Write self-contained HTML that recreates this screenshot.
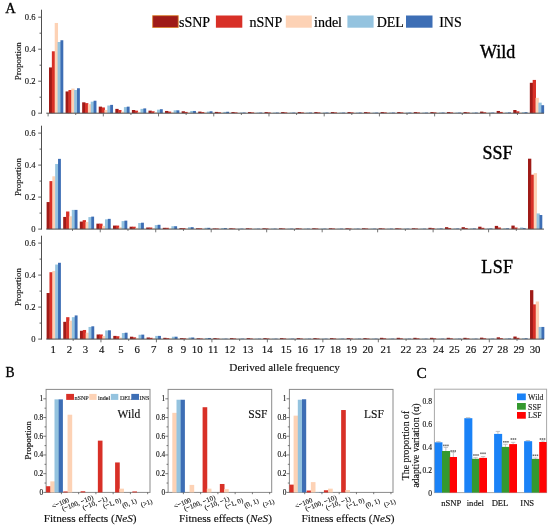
<!DOCTYPE html>
<html><head><meta charset="utf-8"><style>
html,body{margin:0;padding:0;background:#fff;}
svg{display:block;}
text{font-family:"Liberation Serif",serif;stroke:currentColor;stroke-width:0.14px;}
</style></head><body>
<svg style="will-change:transform;filter:blur(0.3px)" width="550" height="526" viewBox="0 0 550 526">
<rect width="550" height="526" fill="#fff"/>
<rect x="49" y="67.44" width="3.31" height="45.76" fill="#9f1b18"/>
<rect x="51.86" y="51.28" width="3.31" height="61.92" fill="#d83027"/>
<rect x="54.72" y="22.96" width="3.31" height="90.24" fill="#fdd2b5"/>
<rect x="57.58" y="42" width="3.31" height="71.2" fill="#94c3df"/>
<rect x="60.44" y="40.24" width="2.86" height="72.96" fill="#3d6eb5"/>
<rect x="65.58" y="91.44" width="3.31" height="21.76" fill="#9f1b18"/>
<rect x="68.44" y="90" width="3.31" height="23.2" fill="#d83027"/>
<rect x="71.3" y="88.56" width="3.31" height="24.64" fill="#fdd2b5"/>
<rect x="74.16" y="90" width="3.31" height="23.2" fill="#94c3df"/>
<rect x="77.02" y="88.24" width="2.86" height="24.96" fill="#3d6eb5"/>
<rect x="82.16" y="102.32" width="3.31" height="10.88" fill="#9f1b18"/>
<rect x="85.02" y="103.12" width="3.31" height="10.08" fill="#d83027"/>
<rect x="87.88" y="104.24" width="3.31" height="8.96" fill="#fdd2b5"/>
<rect x="90.74" y="101.68" width="3.31" height="11.52" fill="#94c3df"/>
<rect x="93.6" y="100.72" width="2.86" height="12.48" fill="#3d6eb5"/>
<rect x="98.74" y="106.64" width="3.31" height="6.56" fill="#9f1b18"/>
<rect x="101.6" y="107.44" width="3.31" height="5.76" fill="#d83027"/>
<rect x="104.46" y="110" width="3.31" height="3.2" fill="#fdd2b5"/>
<rect x="107.32" y="105.52" width="3.31" height="7.68" fill="#94c3df"/>
<rect x="110.18" y="104.88" width="2.86" height="8.32" fill="#3d6eb5"/>
<rect x="115.32" y="108.88" width="3.31" height="4.32" fill="#9f1b18"/>
<rect x="118.18" y="110" width="3.31" height="3.2" fill="#d83027"/>
<rect x="121.04" y="111.6" width="3.31" height="1.6" fill="#fdd2b5"/>
<rect x="123.9" y="107.12" width="3.31" height="6.08" fill="#94c3df"/>
<rect x="126.76" y="106.64" width="2.86" height="6.56" fill="#3d6eb5"/>
<rect x="131.9" y="110" width="3.31" height="3.2" fill="#9f1b18"/>
<rect x="134.76" y="110.64" width="3.31" height="2.56" fill="#d83027"/>
<rect x="137.62" y="111.92" width="3.31" height="1.28" fill="#fdd2b5"/>
<rect x="140.48" y="108.88" width="3.31" height="4.32" fill="#94c3df"/>
<rect x="143.34" y="108.4" width="2.86" height="4.8" fill="#3d6eb5"/>
<rect x="148.48" y="110.64" width="3.31" height="2.56" fill="#9f1b18"/>
<rect x="151.34" y="111.28" width="3.31" height="1.92" fill="#d83027"/>
<rect x="154.2" y="112.24" width="3.31" height="0.96" fill="#fdd2b5"/>
<rect x="157.06" y="109.68" width="3.31" height="3.52" fill="#94c3df"/>
<rect x="159.92" y="109.2" width="2.86" height="4" fill="#3d6eb5"/>
<rect x="165.06" y="110.96" width="3.31" height="2.24" fill="#9f1b18"/>
<rect x="167.92" y="111.6" width="3.31" height="1.6" fill="#d83027"/>
<rect x="170.78" y="112.4" width="3.31" height="0.8" fill="#fdd2b5"/>
<rect x="173.64" y="110.32" width="3.31" height="2.88" fill="#94c3df"/>
<rect x="176.5" y="110.32" width="2.86" height="2.88" fill="#3d6eb5"/>
<rect x="181.64" y="111.28" width="3.31" height="1.92" fill="#9f1b18"/>
<rect x="184.5" y="111.92" width="3.31" height="1.28" fill="#d83027"/>
<rect x="187.36" y="112.56" width="3.31" height="0.64" fill="#fdd2b5"/>
<rect x="190.22" y="110.96" width="3.31" height="2.24" fill="#94c3df"/>
<rect x="193.08" y="110.96" width="2.86" height="2.24" fill="#3d6eb5"/>
<rect x="198.22" y="111.6" width="3.31" height="1.6" fill="#9f1b18"/>
<rect x="201.08" y="112.08" width="3.31" height="1.12" fill="#d83027"/>
<rect x="203.94" y="112.56" width="3.31" height="0.64" fill="#fdd2b5"/>
<rect x="206.8" y="111.6" width="3.31" height="1.6" fill="#94c3df"/>
<rect x="209.66" y="111.28" width="2.86" height="1.92" fill="#3d6eb5"/>
<rect x="214.8" y="111.92" width="3.31" height="1.28" fill="#9f1b18"/>
<rect x="217.66" y="112.24" width="3.31" height="0.96" fill="#d83027"/>
<rect x="220.52" y="112.72" width="3.31" height="0.48" fill="#fdd2b5"/>
<rect x="223.38" y="111.92" width="3.31" height="1.28" fill="#94c3df"/>
<rect x="226.24" y="111.76" width="2.86" height="1.44" fill="#3d6eb5"/>
<rect x="231.38" y="112.08" width="3.31" height="1.12" fill="#9f1b18"/>
<rect x="234.24" y="112.4" width="3.31" height="0.8" fill="#d83027"/>
<rect x="237.1" y="112.88" width="3.31" height="0.32" fill="#fdd2b5"/>
<rect x="239.96" y="112.56" width="3.31" height="0.64" fill="#94c3df"/>
<rect x="242.82" y="112.56" width="2.86" height="0.64" fill="#3d6eb5"/>
<rect x="247.96" y="112.08" width="3.31" height="1.12" fill="#9f1b18"/>
<rect x="250.82" y="112.4" width="3.31" height="0.8" fill="#d83027"/>
<rect x="253.68" y="112.88" width="3.31" height="0.32" fill="#fdd2b5"/>
<rect x="256.54" y="112.56" width="3.31" height="0.64" fill="#94c3df"/>
<rect x="259.4" y="112.56" width="2.86" height="0.64" fill="#3d6eb5"/>
<rect x="264.54" y="112.08" width="3.31" height="1.12" fill="#9f1b18"/>
<rect x="267.4" y="112.4" width="3.31" height="0.8" fill="#d83027"/>
<rect x="270.26" y="112.88" width="3.31" height="0.32" fill="#fdd2b5"/>
<rect x="273.12" y="112.56" width="3.31" height="0.64" fill="#94c3df"/>
<rect x="275.98" y="112.56" width="2.86" height="0.64" fill="#3d6eb5"/>
<rect x="281.12" y="112.08" width="3.31" height="1.12" fill="#9f1b18"/>
<rect x="283.98" y="112.4" width="3.31" height="0.8" fill="#d83027"/>
<rect x="286.84" y="112.88" width="3.31" height="0.32" fill="#fdd2b5"/>
<rect x="289.7" y="112.56" width="3.31" height="0.64" fill="#94c3df"/>
<rect x="292.56" y="112.56" width="2.86" height="0.64" fill="#3d6eb5"/>
<rect x="297.7" y="112.08" width="3.31" height="1.12" fill="#9f1b18"/>
<rect x="300.56" y="112.4" width="3.31" height="0.8" fill="#d83027"/>
<rect x="303.42" y="112.88" width="3.31" height="0.32" fill="#fdd2b5"/>
<rect x="306.28" y="112.56" width="3.31" height="0.64" fill="#94c3df"/>
<rect x="309.14" y="112.56" width="2.86" height="0.64" fill="#3d6eb5"/>
<rect x="314.28" y="112.08" width="3.31" height="1.12" fill="#9f1b18"/>
<rect x="317.14" y="112.4" width="3.31" height="0.8" fill="#d83027"/>
<rect x="320" y="112.88" width="3.31" height="0.32" fill="#fdd2b5"/>
<rect x="322.86" y="112.56" width="3.31" height="0.64" fill="#94c3df"/>
<rect x="325.72" y="112.56" width="2.86" height="0.64" fill="#3d6eb5"/>
<rect x="330.86" y="112.08" width="3.31" height="1.12" fill="#9f1b18"/>
<rect x="333.72" y="112.4" width="3.31" height="0.8" fill="#d83027"/>
<rect x="336.58" y="112.88" width="3.31" height="0.32" fill="#fdd2b5"/>
<rect x="339.44" y="112.56" width="3.31" height="0.64" fill="#94c3df"/>
<rect x="342.3" y="112.56" width="2.86" height="0.64" fill="#3d6eb5"/>
<rect x="347.44" y="112.08" width="3.31" height="1.12" fill="#9f1b18"/>
<rect x="350.3" y="112.4" width="3.31" height="0.8" fill="#d83027"/>
<rect x="353.16" y="112.88" width="3.31" height="0.32" fill="#fdd2b5"/>
<rect x="356.02" y="112.56" width="3.31" height="0.64" fill="#94c3df"/>
<rect x="358.88" y="112.56" width="2.86" height="0.64" fill="#3d6eb5"/>
<rect x="364.02" y="112.08" width="3.31" height="1.12" fill="#9f1b18"/>
<rect x="366.88" y="112.4" width="3.31" height="0.8" fill="#d83027"/>
<rect x="369.74" y="112.88" width="3.31" height="0.32" fill="#fdd2b5"/>
<rect x="372.6" y="112.56" width="3.31" height="0.64" fill="#94c3df"/>
<rect x="375.46" y="112.56" width="2.86" height="0.64" fill="#3d6eb5"/>
<rect x="380.6" y="112.08" width="3.31" height="1.12" fill="#9f1b18"/>
<rect x="383.46" y="112.4" width="3.31" height="0.8" fill="#d83027"/>
<rect x="386.32" y="112.88" width="3.31" height="0.32" fill="#fdd2b5"/>
<rect x="389.18" y="112.56" width="3.31" height="0.64" fill="#94c3df"/>
<rect x="392.04" y="112.56" width="2.86" height="0.64" fill="#3d6eb5"/>
<rect x="397.18" y="112.08" width="3.31" height="1.12" fill="#9f1b18"/>
<rect x="400.04" y="112.4" width="3.31" height="0.8" fill="#d83027"/>
<rect x="402.9" y="112.88" width="3.31" height="0.32" fill="#fdd2b5"/>
<rect x="405.76" y="112.56" width="3.31" height="0.64" fill="#94c3df"/>
<rect x="408.62" y="112.56" width="2.86" height="0.64" fill="#3d6eb5"/>
<rect x="413.76" y="112.08" width="3.31" height="1.12" fill="#9f1b18"/>
<rect x="416.62" y="112.4" width="3.31" height="0.8" fill="#d83027"/>
<rect x="419.48" y="112.88" width="3.31" height="0.32" fill="#fdd2b5"/>
<rect x="422.34" y="112.56" width="3.31" height="0.64" fill="#94c3df"/>
<rect x="425.2" y="112.56" width="2.86" height="0.64" fill="#3d6eb5"/>
<rect x="430.34" y="112.08" width="3.31" height="1.12" fill="#9f1b18"/>
<rect x="433.2" y="112.4" width="3.31" height="0.8" fill="#d83027"/>
<rect x="436.06" y="112.88" width="3.31" height="0.32" fill="#fdd2b5"/>
<rect x="438.92" y="112.56" width="3.31" height="0.64" fill="#94c3df"/>
<rect x="441.78" y="112.56" width="2.86" height="0.64" fill="#3d6eb5"/>
<rect x="446.92" y="112.08" width="3.31" height="1.12" fill="#9f1b18"/>
<rect x="449.78" y="112.4" width="3.31" height="0.8" fill="#d83027"/>
<rect x="452.64" y="112.88" width="3.31" height="0.32" fill="#fdd2b5"/>
<rect x="455.5" y="112.56" width="3.31" height="0.64" fill="#94c3df"/>
<rect x="458.36" y="112.56" width="2.86" height="0.64" fill="#3d6eb5"/>
<rect x="463.5" y="112.08" width="3.31" height="1.12" fill="#9f1b18"/>
<rect x="466.36" y="112.4" width="3.31" height="0.8" fill="#d83027"/>
<rect x="469.22" y="112.88" width="3.31" height="0.32" fill="#fdd2b5"/>
<rect x="472.08" y="112.56" width="3.31" height="0.64" fill="#94c3df"/>
<rect x="474.94" y="112.56" width="2.86" height="0.64" fill="#3d6eb5"/>
<rect x="480.08" y="111.6" width="3.31" height="1.6" fill="#9f1b18"/>
<rect x="482.94" y="112.24" width="3.31" height="0.96" fill="#d83027"/>
<rect x="485.8" y="112.72" width="3.31" height="0.48" fill="#fdd2b5"/>
<rect x="488.66" y="112.56" width="3.31" height="0.64" fill="#94c3df"/>
<rect x="491.52" y="112.56" width="2.86" height="0.64" fill="#3d6eb5"/>
<rect x="496.66" y="110.96" width="3.31" height="2.24" fill="#9f1b18"/>
<rect x="499.52" y="111.92" width="3.31" height="1.28" fill="#d83027"/>
<rect x="502.38" y="112.72" width="3.31" height="0.48" fill="#fdd2b5"/>
<rect x="505.24" y="112.4" width="3.31" height="0.8" fill="#94c3df"/>
<rect x="508.1" y="112.4" width="2.86" height="0.8" fill="#3d6eb5"/>
<rect x="513.24" y="110" width="3.31" height="3.2" fill="#9f1b18"/>
<rect x="516.1" y="111.28" width="3.31" height="1.92" fill="#d83027"/>
<rect x="518.96" y="112.56" width="3.31" height="0.64" fill="#fdd2b5"/>
<rect x="521.82" y="112.24" width="3.31" height="0.96" fill="#94c3df"/>
<rect x="524.68" y="112.24" width="2.86" height="0.96" fill="#3d6eb5"/>
<rect x="529.82" y="82.8" width="3.31" height="30.4" fill="#9f1b18"/>
<rect x="532.68" y="79.92" width="3.31" height="33.28" fill="#d83027"/>
<rect x="535.54" y="97.84" width="3.31" height="15.36" fill="#fdd2b5"/>
<rect x="538.4" y="102.64" width="3.31" height="10.56" fill="#94c3df"/>
<rect x="541.26" y="105.2" width="2.86" height="8" fill="#3d6eb5"/>
<line x1="41.5" y1="9.7" x2="41.5" y2="113.7" stroke="#505050" stroke-width="1"/>
<line x1="46.3" y1="113.2" x2="544" y2="113.2" stroke="#505050" stroke-width="1"/>
<line x1="38.2" y1="113.2" x2="41.5" y2="113.2" stroke="#505050" stroke-width="0.9"/>
<text x="35.6" y="115.8" font-size="8.6" text-anchor="end" fill="#222">0</text>
<line x1="39.5" y1="97.2" x2="41.5" y2="97.2" stroke="#505050" stroke-width="0.9"/>
<line x1="38.2" y1="81.2" x2="41.5" y2="81.2" stroke="#505050" stroke-width="0.9"/>
<text x="35.6" y="83.8" font-size="8.6" text-anchor="end" fill="#222">0.2</text>
<line x1="39.5" y1="65.2" x2="41.5" y2="65.2" stroke="#505050" stroke-width="0.9"/>
<line x1="38.2" y1="49.2" x2="41.5" y2="49.2" stroke="#505050" stroke-width="0.9"/>
<text x="35.6" y="51.8" font-size="8.6" text-anchor="end" fill="#222">0.4</text>
<line x1="39.5" y1="33.2" x2="41.5" y2="33.2" stroke="#505050" stroke-width="0.9"/>
<line x1="38.2" y1="17.2" x2="41.5" y2="17.2" stroke="#505050" stroke-width="0.9"/>
<text x="35.6" y="19.8" font-size="8.6" text-anchor="end" fill="#222">0.6</text>
<line x1="48.1" y1="113.2" x2="48.1" y2="116.4" stroke="#505050" stroke-width="0.8"/>
<line x1="75.71" y1="113.2" x2="75.71" y2="115" stroke="#505050" stroke-width="0.8"/>
<line x1="103.32" y1="113.2" x2="103.32" y2="116.4" stroke="#505050" stroke-width="0.8"/>
<line x1="130.93" y1="113.2" x2="130.93" y2="115" stroke="#505050" stroke-width="0.8"/>
<line x1="158.54" y1="113.2" x2="158.54" y2="116.4" stroke="#505050" stroke-width="0.8"/>
<line x1="186.15" y1="113.2" x2="186.15" y2="115" stroke="#505050" stroke-width="0.8"/>
<line x1="213.76" y1="113.2" x2="213.76" y2="116.4" stroke="#505050" stroke-width="0.8"/>
<line x1="241.37" y1="113.2" x2="241.37" y2="115" stroke="#505050" stroke-width="0.8"/>
<line x1="268.98" y1="113.2" x2="268.98" y2="116.4" stroke="#505050" stroke-width="0.8"/>
<line x1="296.59" y1="113.2" x2="296.59" y2="115" stroke="#505050" stroke-width="0.8"/>
<line x1="324.2" y1="113.2" x2="324.2" y2="116.4" stroke="#505050" stroke-width="0.8"/>
<line x1="351.81" y1="113.2" x2="351.81" y2="115" stroke="#505050" stroke-width="0.8"/>
<line x1="379.42" y1="113.2" x2="379.42" y2="116.4" stroke="#505050" stroke-width="0.8"/>
<line x1="407.03" y1="113.2" x2="407.03" y2="115" stroke="#505050" stroke-width="0.8"/>
<line x1="434.64" y1="113.2" x2="434.64" y2="116.4" stroke="#505050" stroke-width="0.8"/>
<line x1="462.25" y1="113.2" x2="462.25" y2="115" stroke="#505050" stroke-width="0.8"/>
<line x1="489.86" y1="113.2" x2="489.86" y2="116.4" stroke="#505050" stroke-width="0.8"/>
<line x1="517.47" y1="113.2" x2="517.47" y2="115" stroke="#505050" stroke-width="0.8"/>
<text transform="translate(20.6 61.2) rotate(-90)" font-size="8.9" text-anchor="middle" fill="#222">Proportion</text>
<text x="479.9" y="57.8" font-size="18" fill="#000" style="stroke-width:0.4px" >Wild</text>
<rect x="46.6" y="202.06" width="3.31" height="27.04" fill="#9f1b18"/>
<rect x="49.46" y="181.1" width="3.31" height="48" fill="#d83027"/>
<rect x="52.32" y="176.3" width="3.31" height="52.8" fill="#fdd2b5"/>
<rect x="55.18" y="163.98" width="3.31" height="65.12" fill="#94c3df"/>
<rect x="58.04" y="158.86" width="2.86" height="70.24" fill="#3d6eb5"/>
<rect x="63.2" y="216.94" width="3.31" height="12.16" fill="#9f1b18"/>
<rect x="66.06" y="211.5" width="3.31" height="17.6" fill="#d83027"/>
<rect x="68.92" y="216.3" width="3.31" height="12.8" fill="#fdd2b5"/>
<rect x="71.78" y="209.9" width="3.31" height="19.2" fill="#94c3df"/>
<rect x="74.64" y="209.9" width="2.86" height="19.2" fill="#3d6eb5"/>
<rect x="79.8" y="221.58" width="3.31" height="7.52" fill="#9f1b18"/>
<rect x="82.66" y="220.14" width="3.31" height="8.96" fill="#d83027"/>
<rect x="85.52" y="221.9" width="3.31" height="7.2" fill="#fdd2b5"/>
<rect x="88.38" y="217.1" width="3.31" height="12" fill="#94c3df"/>
<rect x="91.24" y="216.62" width="2.86" height="12.48" fill="#3d6eb5"/>
<rect x="96.4" y="223.66" width="3.31" height="5.44" fill="#9f1b18"/>
<rect x="99.26" y="223.66" width="3.31" height="5.44" fill="#d83027"/>
<rect x="102.12" y="225.9" width="3.31" height="3.2" fill="#fdd2b5"/>
<rect x="104.98" y="219.34" width="3.31" height="9.76" fill="#94c3df"/>
<rect x="107.84" y="218.86" width="2.86" height="10.24" fill="#3d6eb5"/>
<rect x="113" y="225.58" width="3.31" height="3.52" fill="#9f1b18"/>
<rect x="115.86" y="225.58" width="3.31" height="3.52" fill="#d83027"/>
<rect x="118.72" y="227.18" width="3.31" height="1.92" fill="#fdd2b5"/>
<rect x="121.58" y="221.1" width="3.31" height="8" fill="#94c3df"/>
<rect x="124.44" y="220.62" width="2.86" height="8.48" fill="#3d6eb5"/>
<rect x="129.6" y="226.7" width="3.31" height="2.4" fill="#9f1b18"/>
<rect x="132.46" y="226.7" width="3.31" height="2.4" fill="#d83027"/>
<rect x="135.32" y="227.82" width="3.31" height="1.28" fill="#fdd2b5"/>
<rect x="138.18" y="223.02" width="3.31" height="6.08" fill="#94c3df"/>
<rect x="141.04" y="222.7" width="2.86" height="6.4" fill="#3d6eb5"/>
<rect x="146.2" y="227.5" width="3.31" height="1.6" fill="#9f1b18"/>
<rect x="149.06" y="227.5" width="3.31" height="1.6" fill="#d83027"/>
<rect x="151.92" y="228.3" width="3.31" height="0.8" fill="#fdd2b5"/>
<rect x="154.78" y="225.1" width="3.31" height="4" fill="#94c3df"/>
<rect x="157.64" y="224.78" width="2.86" height="4.32" fill="#3d6eb5"/>
<rect x="162.8" y="227.82" width="3.31" height="1.28" fill="#9f1b18"/>
<rect x="165.66" y="227.82" width="3.31" height="1.28" fill="#d83027"/>
<rect x="168.52" y="228.46" width="3.31" height="0.64" fill="#fdd2b5"/>
<rect x="171.38" y="226.22" width="3.31" height="2.88" fill="#94c3df"/>
<rect x="174.24" y="226.22" width="2.86" height="2.88" fill="#3d6eb5"/>
<rect x="179.4" y="228.14" width="3.31" height="0.96" fill="#9f1b18"/>
<rect x="182.26" y="228.14" width="3.31" height="0.96" fill="#d83027"/>
<rect x="185.12" y="228.62" width="3.31" height="0.48" fill="#fdd2b5"/>
<rect x="187.98" y="227.18" width="3.31" height="1.92" fill="#94c3df"/>
<rect x="190.84" y="227.18" width="2.86" height="1.92" fill="#3d6eb5"/>
<rect x="196" y="228.3" width="3.31" height="0.8" fill="#9f1b18"/>
<rect x="198.86" y="228.3" width="3.31" height="0.8" fill="#d83027"/>
<rect x="201.72" y="228.78" width="3.31" height="0.32" fill="#fdd2b5"/>
<rect x="204.58" y="227.82" width="3.31" height="1.28" fill="#94c3df"/>
<rect x="207.44" y="227.82" width="2.86" height="1.28" fill="#3d6eb5"/>
<rect x="212.6" y="228.46" width="3.31" height="0.64" fill="#9f1b18"/>
<rect x="215.46" y="228.46" width="3.31" height="0.64" fill="#d83027"/>
<rect x="218.32" y="228.78" width="3.31" height="0.32" fill="#fdd2b5"/>
<rect x="221.18" y="228.14" width="3.31" height="0.96" fill="#94c3df"/>
<rect x="224.04" y="228.14" width="2.86" height="0.96" fill="#3d6eb5"/>
<rect x="229.2" y="228.3" width="3.31" height="0.8" fill="#9f1b18"/>
<rect x="232.06" y="228.46" width="3.31" height="0.64" fill="#d83027"/>
<rect x="234.92" y="228.78" width="3.31" height="0.32" fill="#fdd2b5"/>
<rect x="237.78" y="228.62" width="3.31" height="0.48" fill="#94c3df"/>
<rect x="240.64" y="228.62" width="2.86" height="0.48" fill="#3d6eb5"/>
<rect x="245.8" y="228.3" width="3.31" height="0.8" fill="#9f1b18"/>
<rect x="248.66" y="228.46" width="3.31" height="0.64" fill="#d83027"/>
<rect x="251.52" y="228.78" width="3.31" height="0.32" fill="#fdd2b5"/>
<rect x="254.38" y="228.62" width="3.31" height="0.48" fill="#94c3df"/>
<rect x="257.24" y="228.62" width="2.86" height="0.48" fill="#3d6eb5"/>
<rect x="262.4" y="228.3" width="3.31" height="0.8" fill="#9f1b18"/>
<rect x="265.26" y="228.46" width="3.31" height="0.64" fill="#d83027"/>
<rect x="268.12" y="228.78" width="3.31" height="0.32" fill="#fdd2b5"/>
<rect x="270.98" y="228.62" width="3.31" height="0.48" fill="#94c3df"/>
<rect x="273.84" y="228.62" width="2.86" height="0.48" fill="#3d6eb5"/>
<rect x="279" y="228.3" width="3.31" height="0.8" fill="#9f1b18"/>
<rect x="281.86" y="228.46" width="3.31" height="0.64" fill="#d83027"/>
<rect x="284.72" y="228.78" width="3.31" height="0.32" fill="#fdd2b5"/>
<rect x="287.58" y="228.62" width="3.31" height="0.48" fill="#94c3df"/>
<rect x="290.44" y="228.62" width="2.86" height="0.48" fill="#3d6eb5"/>
<rect x="295.6" y="228.3" width="3.31" height="0.8" fill="#9f1b18"/>
<rect x="298.46" y="228.46" width="3.31" height="0.64" fill="#d83027"/>
<rect x="301.32" y="228.78" width="3.31" height="0.32" fill="#fdd2b5"/>
<rect x="304.18" y="228.62" width="3.31" height="0.48" fill="#94c3df"/>
<rect x="307.04" y="228.62" width="2.86" height="0.48" fill="#3d6eb5"/>
<rect x="312.2" y="228.3" width="3.31" height="0.8" fill="#9f1b18"/>
<rect x="315.06" y="228.46" width="3.31" height="0.64" fill="#d83027"/>
<rect x="317.92" y="228.78" width="3.31" height="0.32" fill="#fdd2b5"/>
<rect x="320.78" y="228.62" width="3.31" height="0.48" fill="#94c3df"/>
<rect x="323.64" y="228.62" width="2.86" height="0.48" fill="#3d6eb5"/>
<rect x="328.8" y="228.3" width="3.31" height="0.8" fill="#9f1b18"/>
<rect x="331.66" y="228.46" width="3.31" height="0.64" fill="#d83027"/>
<rect x="334.52" y="228.78" width="3.31" height="0.32" fill="#fdd2b5"/>
<rect x="337.38" y="228.62" width="3.31" height="0.48" fill="#94c3df"/>
<rect x="340.24" y="228.62" width="2.86" height="0.48" fill="#3d6eb5"/>
<rect x="345.4" y="228.3" width="3.31" height="0.8" fill="#9f1b18"/>
<rect x="348.26" y="228.46" width="3.31" height="0.64" fill="#d83027"/>
<rect x="351.12" y="228.78" width="3.31" height="0.32" fill="#fdd2b5"/>
<rect x="353.98" y="228.62" width="3.31" height="0.48" fill="#94c3df"/>
<rect x="356.84" y="228.62" width="2.86" height="0.48" fill="#3d6eb5"/>
<rect x="362" y="228.3" width="3.31" height="0.8" fill="#9f1b18"/>
<rect x="364.86" y="228.46" width="3.31" height="0.64" fill="#d83027"/>
<rect x="367.72" y="228.78" width="3.31" height="0.32" fill="#fdd2b5"/>
<rect x="370.58" y="228.62" width="3.31" height="0.48" fill="#94c3df"/>
<rect x="373.44" y="228.62" width="2.86" height="0.48" fill="#3d6eb5"/>
<rect x="378.6" y="228.3" width="3.31" height="0.8" fill="#9f1b18"/>
<rect x="381.46" y="228.46" width="3.31" height="0.64" fill="#d83027"/>
<rect x="384.32" y="228.78" width="3.31" height="0.32" fill="#fdd2b5"/>
<rect x="387.18" y="228.62" width="3.31" height="0.48" fill="#94c3df"/>
<rect x="390.04" y="228.62" width="2.86" height="0.48" fill="#3d6eb5"/>
<rect x="395.2" y="228.3" width="3.31" height="0.8" fill="#9f1b18"/>
<rect x="398.06" y="228.46" width="3.31" height="0.64" fill="#d83027"/>
<rect x="400.92" y="228.78" width="3.31" height="0.32" fill="#fdd2b5"/>
<rect x="403.78" y="228.62" width="3.31" height="0.48" fill="#94c3df"/>
<rect x="406.64" y="228.62" width="2.86" height="0.48" fill="#3d6eb5"/>
<rect x="411.8" y="228.3" width="3.31" height="0.8" fill="#9f1b18"/>
<rect x="414.66" y="228.46" width="3.31" height="0.64" fill="#d83027"/>
<rect x="417.52" y="228.78" width="3.31" height="0.32" fill="#fdd2b5"/>
<rect x="420.38" y="228.62" width="3.31" height="0.48" fill="#94c3df"/>
<rect x="423.24" y="228.62" width="2.86" height="0.48" fill="#3d6eb5"/>
<rect x="428.4" y="227.82" width="3.31" height="1.28" fill="#9f1b18"/>
<rect x="431.26" y="228.14" width="3.31" height="0.96" fill="#d83027"/>
<rect x="434.12" y="228.78" width="3.31" height="0.32" fill="#fdd2b5"/>
<rect x="436.98" y="228.46" width="3.31" height="0.64" fill="#94c3df"/>
<rect x="439.84" y="228.46" width="2.86" height="0.64" fill="#3d6eb5"/>
<rect x="445" y="227.18" width="3.31" height="1.92" fill="#9f1b18"/>
<rect x="447.86" y="227.98" width="3.31" height="1.12" fill="#d83027"/>
<rect x="450.72" y="228.78" width="3.31" height="0.32" fill="#fdd2b5"/>
<rect x="453.58" y="228.46" width="3.31" height="0.64" fill="#94c3df"/>
<rect x="456.44" y="228.46" width="2.86" height="0.64" fill="#3d6eb5"/>
<rect x="461.6" y="227.18" width="3.31" height="1.92" fill="#9f1b18"/>
<rect x="464.46" y="227.98" width="3.31" height="1.12" fill="#d83027"/>
<rect x="467.32" y="228.78" width="3.31" height="0.32" fill="#fdd2b5"/>
<rect x="470.18" y="228.46" width="3.31" height="0.64" fill="#94c3df"/>
<rect x="473.04" y="228.46" width="2.86" height="0.64" fill="#3d6eb5"/>
<rect x="478.2" y="226.7" width="3.31" height="2.4" fill="#9f1b18"/>
<rect x="481.06" y="227.82" width="3.31" height="1.28" fill="#d83027"/>
<rect x="483.92" y="228.78" width="3.31" height="0.32" fill="#fdd2b5"/>
<rect x="486.78" y="228.46" width="3.31" height="0.64" fill="#94c3df"/>
<rect x="489.64" y="228.46" width="2.86" height="0.64" fill="#3d6eb5"/>
<rect x="494.8" y="225.9" width="3.31" height="3.2" fill="#9f1b18"/>
<rect x="497.66" y="227.5" width="3.31" height="1.6" fill="#d83027"/>
<rect x="500.52" y="228.62" width="3.31" height="0.48" fill="#fdd2b5"/>
<rect x="503.38" y="228.3" width="3.31" height="0.8" fill="#94c3df"/>
<rect x="506.24" y="228.3" width="2.86" height="0.8" fill="#3d6eb5"/>
<rect x="511.4" y="225.58" width="3.31" height="3.52" fill="#9f1b18"/>
<rect x="514.26" y="227.5" width="3.31" height="1.6" fill="#d83027"/>
<rect x="517.12" y="228.46" width="3.31" height="0.64" fill="#fdd2b5"/>
<rect x="519.98" y="227.5" width="3.31" height="1.6" fill="#94c3df"/>
<rect x="522.84" y="228.14" width="2.86" height="0.96" fill="#3d6eb5"/>
<rect x="528" y="158.7" width="3.31" height="70.4" fill="#9f1b18"/>
<rect x="530.86" y="174.7" width="3.31" height="54.4" fill="#d83027"/>
<rect x="533.72" y="173.1" width="3.31" height="56" fill="#fdd2b5"/>
<rect x="536.58" y="213.42" width="3.31" height="15.68" fill="#94c3df"/>
<rect x="539.44" y="215.02" width="2.86" height="14.08" fill="#3d6eb5"/>
<line x1="41.5" y1="125.7" x2="41.5" y2="229.6" stroke="#505050" stroke-width="1"/>
<line x1="46.3" y1="229.1" x2="544" y2="229.1" stroke="#505050" stroke-width="1"/>
<line x1="38.2" y1="229.1" x2="41.5" y2="229.1" stroke="#505050" stroke-width="0.9"/>
<text x="35.6" y="231.7" font-size="8.6" text-anchor="end" fill="#222">0</text>
<line x1="39.5" y1="213.1" x2="41.5" y2="213.1" stroke="#505050" stroke-width="0.9"/>
<line x1="38.2" y1="197.1" x2="41.5" y2="197.1" stroke="#505050" stroke-width="0.9"/>
<text x="35.6" y="199.7" font-size="8.6" text-anchor="end" fill="#222">0.2</text>
<line x1="39.5" y1="181.1" x2="41.5" y2="181.1" stroke="#505050" stroke-width="0.9"/>
<line x1="38.2" y1="165.1" x2="41.5" y2="165.1" stroke="#505050" stroke-width="0.9"/>
<text x="35.6" y="167.7" font-size="8.6" text-anchor="end" fill="#222">0.4</text>
<line x1="39.5" y1="149.1" x2="41.5" y2="149.1" stroke="#505050" stroke-width="0.9"/>
<line x1="38.2" y1="133.1" x2="41.5" y2="133.1" stroke="#505050" stroke-width="0.9"/>
<text x="35.6" y="135.7" font-size="8.6" text-anchor="end" fill="#222">0.6</text>
<line x1="72.5" y1="229.1" x2="72.5" y2="230.9" stroke="#505050" stroke-width="0.8"/>
<line x1="100.24" y1="229.1" x2="100.24" y2="232.3" stroke="#505050" stroke-width="0.8"/>
<line x1="127.98" y1="229.1" x2="127.98" y2="230.9" stroke="#505050" stroke-width="0.8"/>
<line x1="155.72" y1="229.1" x2="155.72" y2="232.3" stroke="#505050" stroke-width="0.8"/>
<line x1="183.46" y1="229.1" x2="183.46" y2="230.9" stroke="#505050" stroke-width="0.8"/>
<line x1="211.2" y1="229.1" x2="211.2" y2="232.3" stroke="#505050" stroke-width="0.8"/>
<line x1="238.94" y1="229.1" x2="238.94" y2="230.9" stroke="#505050" stroke-width="0.8"/>
<line x1="266.68" y1="229.1" x2="266.68" y2="232.3" stroke="#505050" stroke-width="0.8"/>
<line x1="294.42" y1="229.1" x2="294.42" y2="230.9" stroke="#505050" stroke-width="0.8"/>
<line x1="322.16" y1="229.1" x2="322.16" y2="232.3" stroke="#505050" stroke-width="0.8"/>
<line x1="349.9" y1="229.1" x2="349.9" y2="230.9" stroke="#505050" stroke-width="0.8"/>
<line x1="377.64" y1="229.1" x2="377.64" y2="232.3" stroke="#505050" stroke-width="0.8"/>
<line x1="405.38" y1="229.1" x2="405.38" y2="230.9" stroke="#505050" stroke-width="0.8"/>
<line x1="433.12" y1="229.1" x2="433.12" y2="232.3" stroke="#505050" stroke-width="0.8"/>
<line x1="460.86" y1="229.1" x2="460.86" y2="230.9" stroke="#505050" stroke-width="0.8"/>
<line x1="488.6" y1="229.1" x2="488.6" y2="232.3" stroke="#505050" stroke-width="0.8"/>
<line x1="516.34" y1="229.1" x2="516.34" y2="230.9" stroke="#505050" stroke-width="0.8"/>
<text transform="translate(20.6 177.1) rotate(-90)" font-size="8.9" text-anchor="middle" fill="#222">Proportion</text>
<text x="482.6" y="158.7" font-size="18" fill="#000" style="stroke-width:0.4px" >SSF</text>
<rect x="46.6" y="293.02" width="3.31" height="46.08" fill="#9f1b18"/>
<rect x="49.46" y="272.22" width="3.31" height="66.88" fill="#d83027"/>
<rect x="52.32" y="270.94" width="3.31" height="68.16" fill="#fdd2b5"/>
<rect x="55.18" y="264.54" width="3.31" height="74.56" fill="#94c3df"/>
<rect x="58.04" y="262.78" width="2.86" height="76.32" fill="#3d6eb5"/>
<rect x="63.27" y="321.82" width="3.31" height="17.28" fill="#9f1b18"/>
<rect x="66.13" y="317.18" width="3.31" height="21.92" fill="#d83027"/>
<rect x="68.99" y="320.7" width="3.31" height="18.4" fill="#fdd2b5"/>
<rect x="71.85" y="317.18" width="3.31" height="21.92" fill="#94c3df"/>
<rect x="74.71" y="315.42" width="2.86" height="23.68" fill="#3d6eb5"/>
<rect x="79.94" y="330.78" width="3.31" height="8.32" fill="#9f1b18"/>
<rect x="82.8" y="329.98" width="3.31" height="9.12" fill="#d83027"/>
<rect x="85.66" y="332.7" width="3.31" height="6.4" fill="#fdd2b5"/>
<rect x="88.52" y="326.94" width="3.31" height="12.16" fill="#94c3df"/>
<rect x="91.38" y="326.3" width="2.86" height="12.8" fill="#3d6eb5"/>
<rect x="96.61" y="334.46" width="3.31" height="4.64" fill="#9f1b18"/>
<rect x="99.47" y="334.46" width="3.31" height="4.64" fill="#d83027"/>
<rect x="102.33" y="335.9" width="3.31" height="3.2" fill="#fdd2b5"/>
<rect x="105.19" y="330.46" width="3.31" height="8.64" fill="#94c3df"/>
<rect x="108.05" y="330.3" width="2.86" height="8.8" fill="#3d6eb5"/>
<rect x="113.28" y="335.9" width="3.31" height="3.2" fill="#9f1b18"/>
<rect x="116.14" y="336.22" width="3.31" height="2.88" fill="#d83027"/>
<rect x="119" y="337.5" width="3.31" height="1.6" fill="#fdd2b5"/>
<rect x="121.86" y="333.02" width="3.31" height="6.08" fill="#94c3df"/>
<rect x="124.72" y="332.7" width="2.86" height="6.4" fill="#3d6eb5"/>
<rect x="129.95" y="336.7" width="3.31" height="2.4" fill="#9f1b18"/>
<rect x="132.81" y="337.34" width="3.31" height="1.76" fill="#d83027"/>
<rect x="135.67" y="338.14" width="3.31" height="0.96" fill="#fdd2b5"/>
<rect x="138.53" y="334.78" width="3.31" height="4.32" fill="#94c3df"/>
<rect x="141.39" y="334.62" width="2.86" height="4.48" fill="#3d6eb5"/>
<rect x="146.62" y="337.5" width="3.31" height="1.6" fill="#9f1b18"/>
<rect x="149.48" y="337.82" width="3.31" height="1.28" fill="#d83027"/>
<rect x="152.34" y="338.3" width="3.31" height="0.8" fill="#fdd2b5"/>
<rect x="155.2" y="335.9" width="3.31" height="3.2" fill="#94c3df"/>
<rect x="158.06" y="335.9" width="2.86" height="3.2" fill="#3d6eb5"/>
<rect x="163.29" y="337.82" width="3.31" height="1.28" fill="#9f1b18"/>
<rect x="166.15" y="338.14" width="3.31" height="0.96" fill="#d83027"/>
<rect x="169.01" y="338.46" width="3.31" height="0.64" fill="#fdd2b5"/>
<rect x="171.87" y="336.7" width="3.31" height="2.4" fill="#94c3df"/>
<rect x="174.73" y="336.7" width="2.86" height="2.4" fill="#3d6eb5"/>
<rect x="179.96" y="338.14" width="3.31" height="0.96" fill="#9f1b18"/>
<rect x="182.82" y="338.3" width="3.31" height="0.8" fill="#d83027"/>
<rect x="185.68" y="338.62" width="3.31" height="0.48" fill="#fdd2b5"/>
<rect x="188.54" y="337.5" width="3.31" height="1.6" fill="#94c3df"/>
<rect x="191.4" y="337.5" width="2.86" height="1.6" fill="#3d6eb5"/>
<rect x="196.63" y="338.3" width="3.31" height="0.8" fill="#9f1b18"/>
<rect x="199.49" y="338.46" width="3.31" height="0.64" fill="#d83027"/>
<rect x="202.35" y="338.78" width="3.31" height="0.32" fill="#fdd2b5"/>
<rect x="205.21" y="337.98" width="3.31" height="1.12" fill="#94c3df"/>
<rect x="208.07" y="337.98" width="2.86" height="1.12" fill="#3d6eb5"/>
<rect x="213.3" y="338.14" width="3.31" height="0.96" fill="#9f1b18"/>
<rect x="216.16" y="338.46" width="3.31" height="0.64" fill="#d83027"/>
<rect x="219.02" y="338.78" width="3.31" height="0.32" fill="#fdd2b5"/>
<rect x="221.88" y="338.62" width="3.31" height="0.48" fill="#94c3df"/>
<rect x="224.74" y="338.62" width="2.86" height="0.48" fill="#3d6eb5"/>
<rect x="229.97" y="338.14" width="3.31" height="0.96" fill="#9f1b18"/>
<rect x="232.83" y="338.46" width="3.31" height="0.64" fill="#d83027"/>
<rect x="235.69" y="338.78" width="3.31" height="0.32" fill="#fdd2b5"/>
<rect x="238.55" y="338.62" width="3.31" height="0.48" fill="#94c3df"/>
<rect x="241.41" y="338.62" width="2.86" height="0.48" fill="#3d6eb5"/>
<rect x="246.64" y="338.14" width="3.31" height="0.96" fill="#9f1b18"/>
<rect x="249.5" y="338.46" width="3.31" height="0.64" fill="#d83027"/>
<rect x="252.36" y="338.78" width="3.31" height="0.32" fill="#fdd2b5"/>
<rect x="255.22" y="338.62" width="3.31" height="0.48" fill="#94c3df"/>
<rect x="258.08" y="338.62" width="2.86" height="0.48" fill="#3d6eb5"/>
<rect x="263.31" y="338.14" width="3.31" height="0.96" fill="#9f1b18"/>
<rect x="266.17" y="338.46" width="3.31" height="0.64" fill="#d83027"/>
<rect x="269.03" y="338.78" width="3.31" height="0.32" fill="#fdd2b5"/>
<rect x="271.89" y="338.62" width="3.31" height="0.48" fill="#94c3df"/>
<rect x="274.75" y="338.62" width="2.86" height="0.48" fill="#3d6eb5"/>
<rect x="279.98" y="338.14" width="3.31" height="0.96" fill="#9f1b18"/>
<rect x="282.84" y="338.46" width="3.31" height="0.64" fill="#d83027"/>
<rect x="285.7" y="338.78" width="3.31" height="0.32" fill="#fdd2b5"/>
<rect x="288.56" y="338.62" width="3.31" height="0.48" fill="#94c3df"/>
<rect x="291.42" y="338.62" width="2.86" height="0.48" fill="#3d6eb5"/>
<rect x="296.65" y="338.14" width="3.31" height="0.96" fill="#9f1b18"/>
<rect x="299.51" y="338.46" width="3.31" height="0.64" fill="#d83027"/>
<rect x="302.37" y="338.78" width="3.31" height="0.32" fill="#fdd2b5"/>
<rect x="305.23" y="338.62" width="3.31" height="0.48" fill="#94c3df"/>
<rect x="308.09" y="338.62" width="2.86" height="0.48" fill="#3d6eb5"/>
<rect x="313.32" y="338.14" width="3.31" height="0.96" fill="#9f1b18"/>
<rect x="316.18" y="338.46" width="3.31" height="0.64" fill="#d83027"/>
<rect x="319.04" y="338.78" width="3.31" height="0.32" fill="#fdd2b5"/>
<rect x="321.9" y="338.62" width="3.31" height="0.48" fill="#94c3df"/>
<rect x="324.76" y="338.62" width="2.86" height="0.48" fill="#3d6eb5"/>
<rect x="329.99" y="338.14" width="3.31" height="0.96" fill="#9f1b18"/>
<rect x="332.85" y="338.46" width="3.31" height="0.64" fill="#d83027"/>
<rect x="335.71" y="338.78" width="3.31" height="0.32" fill="#fdd2b5"/>
<rect x="338.57" y="338.62" width="3.31" height="0.48" fill="#94c3df"/>
<rect x="341.43" y="338.62" width="2.86" height="0.48" fill="#3d6eb5"/>
<rect x="346.66" y="338.14" width="3.31" height="0.96" fill="#9f1b18"/>
<rect x="349.52" y="338.46" width="3.31" height="0.64" fill="#d83027"/>
<rect x="352.38" y="338.78" width="3.31" height="0.32" fill="#fdd2b5"/>
<rect x="355.24" y="338.62" width="3.31" height="0.48" fill="#94c3df"/>
<rect x="358.1" y="338.62" width="2.86" height="0.48" fill="#3d6eb5"/>
<rect x="363.33" y="338.14" width="3.31" height="0.96" fill="#9f1b18"/>
<rect x="366.19" y="338.46" width="3.31" height="0.64" fill="#d83027"/>
<rect x="369.05" y="338.78" width="3.31" height="0.32" fill="#fdd2b5"/>
<rect x="371.91" y="338.62" width="3.31" height="0.48" fill="#94c3df"/>
<rect x="374.77" y="338.62" width="2.86" height="0.48" fill="#3d6eb5"/>
<rect x="380" y="337.82" width="3.31" height="1.28" fill="#9f1b18"/>
<rect x="382.86" y="338.3" width="3.31" height="0.8" fill="#d83027"/>
<rect x="385.72" y="338.78" width="3.31" height="0.32" fill="#fdd2b5"/>
<rect x="388.58" y="338.62" width="3.31" height="0.48" fill="#94c3df"/>
<rect x="391.44" y="338.62" width="2.86" height="0.48" fill="#3d6eb5"/>
<rect x="396.67" y="337.82" width="3.31" height="1.28" fill="#9f1b18"/>
<rect x="399.53" y="338.3" width="3.31" height="0.8" fill="#d83027"/>
<rect x="402.39" y="338.78" width="3.31" height="0.32" fill="#fdd2b5"/>
<rect x="405.25" y="338.62" width="3.31" height="0.48" fill="#94c3df"/>
<rect x="408.11" y="338.62" width="2.86" height="0.48" fill="#3d6eb5"/>
<rect x="413.34" y="337.82" width="3.31" height="1.28" fill="#9f1b18"/>
<rect x="416.2" y="338.3" width="3.31" height="0.8" fill="#d83027"/>
<rect x="419.06" y="338.78" width="3.31" height="0.32" fill="#fdd2b5"/>
<rect x="421.92" y="338.62" width="3.31" height="0.48" fill="#94c3df"/>
<rect x="424.78" y="338.62" width="2.86" height="0.48" fill="#3d6eb5"/>
<rect x="430.01" y="337.82" width="3.31" height="1.28" fill="#9f1b18"/>
<rect x="432.87" y="338.3" width="3.31" height="0.8" fill="#d83027"/>
<rect x="435.73" y="338.78" width="3.31" height="0.32" fill="#fdd2b5"/>
<rect x="438.59" y="338.62" width="3.31" height="0.48" fill="#94c3df"/>
<rect x="441.45" y="338.62" width="2.86" height="0.48" fill="#3d6eb5"/>
<rect x="446.68" y="337.82" width="3.31" height="1.28" fill="#9f1b18"/>
<rect x="449.54" y="338.3" width="3.31" height="0.8" fill="#d83027"/>
<rect x="452.4" y="338.78" width="3.31" height="0.32" fill="#fdd2b5"/>
<rect x="455.26" y="338.62" width="3.31" height="0.48" fill="#94c3df"/>
<rect x="458.12" y="338.62" width="2.86" height="0.48" fill="#3d6eb5"/>
<rect x="463.35" y="337.82" width="3.31" height="1.28" fill="#9f1b18"/>
<rect x="466.21" y="338.3" width="3.31" height="0.8" fill="#d83027"/>
<rect x="469.07" y="338.78" width="3.31" height="0.32" fill="#fdd2b5"/>
<rect x="471.93" y="338.62" width="3.31" height="0.48" fill="#94c3df"/>
<rect x="474.79" y="338.62" width="2.86" height="0.48" fill="#3d6eb5"/>
<rect x="480.02" y="337.66" width="3.31" height="1.44" fill="#9f1b18"/>
<rect x="482.88" y="338.3" width="3.31" height="0.8" fill="#d83027"/>
<rect x="485.74" y="338.78" width="3.31" height="0.32" fill="#fdd2b5"/>
<rect x="488.6" y="338.62" width="3.31" height="0.48" fill="#94c3df"/>
<rect x="491.46" y="338.62" width="2.86" height="0.48" fill="#3d6eb5"/>
<rect x="496.69" y="337.34" width="3.31" height="1.76" fill="#9f1b18"/>
<rect x="499.55" y="338.14" width="3.31" height="0.96" fill="#d83027"/>
<rect x="502.41" y="338.78" width="3.31" height="0.32" fill="#fdd2b5"/>
<rect x="505.27" y="338.46" width="3.31" height="0.64" fill="#94c3df"/>
<rect x="508.13" y="338.46" width="2.86" height="0.64" fill="#3d6eb5"/>
<rect x="513.36" y="336.54" width="3.31" height="2.56" fill="#9f1b18"/>
<rect x="516.22" y="337.82" width="3.31" height="1.28" fill="#d83027"/>
<rect x="519.08" y="338.62" width="3.31" height="0.48" fill="#fdd2b5"/>
<rect x="521.94" y="338.3" width="3.31" height="0.8" fill="#94c3df"/>
<rect x="524.8" y="338.3" width="2.86" height="0.8" fill="#3d6eb5"/>
<rect x="530.03" y="290.14" width="3.31" height="48.96" fill="#9f1b18"/>
<rect x="532.89" y="304.38" width="3.31" height="34.72" fill="#d83027"/>
<rect x="535.75" y="301.5" width="3.31" height="37.6" fill="#fdd2b5"/>
<rect x="538.61" y="326.94" width="3.31" height="12.16" fill="#94c3df"/>
<rect x="541.47" y="326.94" width="2.86" height="12.16" fill="#3d6eb5"/>
<line x1="41.5" y1="235.7" x2="41.5" y2="339.6" stroke="#505050" stroke-width="1"/>
<line x1="46.3" y1="339.1" x2="544" y2="339.1" stroke="#505050" stroke-width="1"/>
<line x1="38.2" y1="339.1" x2="41.5" y2="339.1" stroke="#505050" stroke-width="0.9"/>
<text x="35.6" y="341.7" font-size="8.6" text-anchor="end" fill="#222">0</text>
<line x1="39.5" y1="323.1" x2="41.5" y2="323.1" stroke="#505050" stroke-width="0.9"/>
<line x1="38.2" y1="307.1" x2="41.5" y2="307.1" stroke="#505050" stroke-width="0.9"/>
<text x="35.6" y="309.7" font-size="8.6" text-anchor="end" fill="#222">0.2</text>
<line x1="39.5" y1="291.1" x2="41.5" y2="291.1" stroke="#505050" stroke-width="0.9"/>
<line x1="38.2" y1="275.1" x2="41.5" y2="275.1" stroke="#505050" stroke-width="0.9"/>
<text x="35.6" y="277.7" font-size="8.6" text-anchor="end" fill="#222">0.4</text>
<line x1="39.5" y1="259.1" x2="41.5" y2="259.1" stroke="#505050" stroke-width="0.9"/>
<line x1="38.2" y1="243.1" x2="41.5" y2="243.1" stroke="#505050" stroke-width="0.9"/>
<text x="35.6" y="245.7" font-size="8.6" text-anchor="end" fill="#222">0.6</text>
<line x1="73.2" y1="339.1" x2="73.2" y2="340.9" stroke="#505050" stroke-width="0.8"/>
<line x1="100.94" y1="339.1" x2="100.94" y2="342.3" stroke="#505050" stroke-width="0.8"/>
<line x1="128.68" y1="339.1" x2="128.68" y2="340.9" stroke="#505050" stroke-width="0.8"/>
<line x1="156.42" y1="339.1" x2="156.42" y2="342.3" stroke="#505050" stroke-width="0.8"/>
<line x1="184.16" y1="339.1" x2="184.16" y2="340.9" stroke="#505050" stroke-width="0.8"/>
<line x1="211.9" y1="339.1" x2="211.9" y2="342.3" stroke="#505050" stroke-width="0.8"/>
<line x1="239.64" y1="339.1" x2="239.64" y2="340.9" stroke="#505050" stroke-width="0.8"/>
<line x1="267.38" y1="339.1" x2="267.38" y2="342.3" stroke="#505050" stroke-width="0.8"/>
<line x1="295.12" y1="339.1" x2="295.12" y2="340.9" stroke="#505050" stroke-width="0.8"/>
<line x1="322.86" y1="339.1" x2="322.86" y2="342.3" stroke="#505050" stroke-width="0.8"/>
<line x1="350.6" y1="339.1" x2="350.6" y2="340.9" stroke="#505050" stroke-width="0.8"/>
<line x1="378.34" y1="339.1" x2="378.34" y2="342.3" stroke="#505050" stroke-width="0.8"/>
<line x1="406.08" y1="339.1" x2="406.08" y2="340.9" stroke="#505050" stroke-width="0.8"/>
<line x1="433.82" y1="339.1" x2="433.82" y2="342.3" stroke="#505050" stroke-width="0.8"/>
<line x1="461.56" y1="339.1" x2="461.56" y2="340.9" stroke="#505050" stroke-width="0.8"/>
<line x1="489.3" y1="339.1" x2="489.3" y2="342.3" stroke="#505050" stroke-width="0.8"/>
<line x1="517.04" y1="339.1" x2="517.04" y2="340.9" stroke="#505050" stroke-width="0.8"/>
<text transform="translate(20.6 287.1) rotate(-90)" font-size="8.9" text-anchor="middle" fill="#222">Proportion</text>
<text x="481.3" y="273.1" font-size="18" fill="#000" style="stroke-width:0.4px" letter-spacing="0.35">LSF</text>
<text x="53.3" y="352.6" font-size="10.8" text-anchor="middle" fill="#111">1</text>
<text x="69.5" y="352.6" font-size="10.8" text-anchor="middle" fill="#111">2</text>
<text x="85.5" y="352.6" font-size="10.8" text-anchor="middle" fill="#111">3</text>
<text x="101.8" y="352.6" font-size="10.8" text-anchor="middle" fill="#111">4</text>
<text x="120.9" y="352.6" font-size="10.8" text-anchor="middle" fill="#111">5</text>
<text x="137.1" y="352.6" font-size="10.8" text-anchor="middle" fill="#111">6</text>
<text x="153.7" y="352.6" font-size="10.8" text-anchor="middle" fill="#111">7</text>
<text x="170.1" y="352.6" font-size="10.8" text-anchor="middle" fill="#111">8</text>
<text x="183.5" y="352.6" font-size="10.8" text-anchor="middle" fill="#111">9</text>
<text x="197.2" y="352.6" font-size="10.8" text-anchor="middle" fill="#111">10</text>
<text x="213.2" y="352.6" font-size="10.8" text-anchor="middle" fill="#111">11</text>
<text x="229.9" y="352.6" font-size="10.8" text-anchor="middle" fill="#111">12</text>
<text x="248" y="352.6" font-size="10.8" text-anchor="middle" fill="#111">13</text>
<text x="267.2" y="352.6" font-size="10.8" text-anchor="middle" fill="#111">14</text>
<text x="286.2" y="352.6" font-size="10.8" text-anchor="middle" fill="#111">15</text>
<text x="302.6" y="352.6" font-size="10.8" text-anchor="middle" fill="#111">16</text>
<text x="319.2" y="352.6" font-size="10.8" text-anchor="middle" fill="#111">17</text>
<text x="335.5" y="352.6" font-size="10.8" text-anchor="middle" fill="#111">18</text>
<text x="351.5" y="352.6" font-size="10.8" text-anchor="middle" fill="#111">19</text>
<text x="367.8" y="352.6" font-size="10.8" text-anchor="middle" fill="#111">20</text>
<text x="385.9" y="352.6" font-size="10.8" text-anchor="middle" fill="#111">21</text>
<text x="406" y="352.6" font-size="10.8" text-anchor="middle" fill="#111">22</text>
<text x="421.3" y="352.6" font-size="10.8" text-anchor="middle" fill="#111">23</text>
<text x="438.4" y="352.6" font-size="10.8" text-anchor="middle" fill="#111">24</text>
<text x="454.3" y="352.6" font-size="10.8" text-anchor="middle" fill="#111">25</text>
<text x="470.8" y="352.6" font-size="10.8" text-anchor="middle" fill="#111">26</text>
<text x="487.8" y="352.6" font-size="10.8" text-anchor="middle" fill="#111">27</text>
<text x="502.7" y="352.6" font-size="10.8" text-anchor="middle" fill="#111">28</text>
<text x="518.8" y="352.6" font-size="10.8" text-anchor="middle" fill="#111">29</text>
<text x="535.1" y="352.6" font-size="10.8" text-anchor="middle" fill="#111">30</text>
<text x="284.6" y="370.9" font-size="11.2" text-anchor="middle" fill="#111">Derived allele frequency</text>
<text x="5.2" y="12.9" font-size="14.5" fill="#000" style="stroke-width:0.3px">A</text>
<text x="5.6" y="376.7" font-size="13.6" fill="#000" style="stroke-width:0.3px">B</text>
<text x="416.6" y="378.3" font-size="15.4" fill="#000" style="stroke-width:0.3px">C</text>
<rect x="152.7" y="15.7" width="25.5" height="11.8" fill="#9f1b18" stroke="#d9822b" stroke-width="0.8"/>
<text x="179" y="26.7" font-size="14" fill="#000" style="stroke-width:0.2px">sSNP</text>
<rect x="215.9" y="15.5" width="26.4" height="12.2" fill="#d83027"/>
<text x="249.5" y="26.7" font-size="14" fill="#000" style="stroke-width:0.2px">nSNP</text>
<rect x="285.8" y="15.5" width="26" height="12.2" fill="#fdd2b5"/>
<text x="314" y="26.7" font-size="14" fill="#000" style="stroke-width:0.2px">indel</text>
<rect x="347.4" y="15.5" width="26.2" height="12.2" fill="#94c3df"/>
<text x="376.7" y="26.7" font-size="14" fill="#000" style="stroke-width:0.2px">DEL</text>
<rect x="406" y="15.5" width="26.5" height="12.2" fill="#3d6eb5"/>
<text x="439.2" y="26.7" font-size="14" fill="#000" style="stroke-width:0.2px">INS</text>
<rect x="46.1" y="389.4" width="103.9" height="103" fill="none" stroke="#8a8a8a" stroke-width="1"/>
<rect x="46.1" y="486.22" width="4.65" height="6.18" fill="#d83027"/>
<rect x="50.3" y="481.36" width="4.65" height="11.04" fill="#fdd2b5"/>
<rect x="54.5" y="399.36" width="4.65" height="93.04" fill="#94c3df"/>
<rect x="58.7" y="399.36" width="4.2" height="93.04" fill="#3d6eb5"/>
<rect x="63.35" y="491.46" width="4.65" height="0.94" fill="#d83027"/>
<rect x="67.55" y="414.71" width="4.65" height="77.69" fill="#fdd2b5"/>
<rect x="80.6" y="491.28" width="4.65" height="1.12" fill="#d83027"/>
<rect x="97.85" y="440.64" width="4.65" height="51.76" fill="#d83027"/>
<rect x="115.1" y="462.45" width="4.65" height="29.95" fill="#d83027"/>
<rect x="119.3" y="488.66" width="4.65" height="3.74" fill="#fdd2b5"/>
<rect x="132.35" y="491.46" width="4.65" height="0.94" fill="#d83027"/>
<line x1="43.3" y1="492.4" x2="46.1" y2="492.4" stroke="#444" stroke-width="0.7"/>
<text x="43.2" y="494.8" font-size="7.3" text-anchor="end" fill="#222">0</text>
<line x1="44.5" y1="483.04" x2="46.1" y2="483.04" stroke="#444" stroke-width="0.7"/>
<line x1="43.3" y1="473.68" x2="46.1" y2="473.68" stroke="#444" stroke-width="0.7"/>
<text x="43.2" y="476.08" font-size="7.3" text-anchor="end" fill="#222">0.2</text>
<line x1="44.5" y1="464.32" x2="46.1" y2="464.32" stroke="#444" stroke-width="0.7"/>
<line x1="43.3" y1="454.96" x2="46.1" y2="454.96" stroke="#444" stroke-width="0.7"/>
<text x="43.2" y="457.36" font-size="7.3" text-anchor="end" fill="#222">0.4</text>
<line x1="44.5" y1="445.6" x2="46.1" y2="445.6" stroke="#444" stroke-width="0.7"/>
<line x1="43.3" y1="436.24" x2="46.1" y2="436.24" stroke="#444" stroke-width="0.7"/>
<text x="43.2" y="438.64" font-size="7.3" text-anchor="end" fill="#222">0.6</text>
<line x1="44.5" y1="426.88" x2="46.1" y2="426.88" stroke="#444" stroke-width="0.7"/>
<line x1="43.3" y1="417.52" x2="46.1" y2="417.52" stroke="#444" stroke-width="0.7"/>
<text x="43.2" y="419.92" font-size="7.3" text-anchor="end" fill="#222">0.8</text>
<line x1="44.5" y1="408.16" x2="46.1" y2="408.16" stroke="#444" stroke-width="0.7"/>
<line x1="43.3" y1="398.8" x2="46.1" y2="398.8" stroke="#444" stroke-width="0.7"/>
<text x="43.2" y="401.2" font-size="7.3" text-anchor="end" fill="#222">1</text>
<line x1="61.4" y1="492.4" x2="61.4" y2="494.2" stroke="#444" stroke-width="0.7"/>
<line x1="78.65" y1="492.4" x2="78.65" y2="494.2" stroke="#444" stroke-width="0.7"/>
<line x1="95.9" y1="492.4" x2="95.9" y2="494.2" stroke="#444" stroke-width="0.7"/>
<line x1="113.15" y1="492.4" x2="113.15" y2="494.2" stroke="#444" stroke-width="0.7"/>
<line x1="130.4" y1="492.4" x2="130.4" y2="494.2" stroke="#444" stroke-width="0.7"/>
<line x1="147.65" y1="492.4" x2="147.65" y2="494.2" stroke="#444" stroke-width="0.7"/>
<text transform="translate(61.1 505.2) rotate(-21)" font-size="6.9" text-anchor="middle" fill="#222">&lt;−100</text>
<text transform="translate(78.35 505.2) rotate(-21)" font-size="6.9" text-anchor="middle" fill="#222">(−100, −10)</text>
<text transform="translate(95.6 505.2) rotate(-21)" font-size="6.9" text-anchor="middle" fill="#222">(−10, −1)</text>
<text transform="translate(112.85 505.2) rotate(-21)" font-size="6.9" text-anchor="middle" fill="#222">(−1, 0)</text>
<text transform="translate(130.1 505.2) rotate(-21)" font-size="6.9" text-anchor="middle" fill="#222">(0, 1)</text>
<text transform="translate(147.35 505.2) rotate(-21)" font-size="6.9" text-anchor="middle" fill="#222">(&gt;1)</text>
<text transform="translate(31.0 440.6) rotate(-90)" font-size="9" text-anchor="middle" fill="#222">Proportion</text>
<text x="117.6" y="418" font-size="11.5" fill="#111">Wild</text>
<text x="43.7" y="521.8" font-size="11.25" fill="#111">Fitness effects (<tspan font-style="italic">NeS</tspan>)</text>
<rect x="168.1" y="389.4" width="103.6" height="103" fill="none" stroke="#8a8a8a" stroke-width="1"/>
<rect x="172.3" y="412.84" width="4.65" height="79.56" fill="#fdd2b5"/>
<rect x="176.5" y="399.74" width="4.65" height="92.66" fill="#94c3df"/>
<rect x="180.7" y="399.74" width="4.2" height="92.66" fill="#3d6eb5"/>
<rect x="189.55" y="484.91" width="4.65" height="7.49" fill="#fdd2b5"/>
<rect x="202.6" y="407.22" width="4.65" height="85.18" fill="#d83027"/>
<rect x="206.8" y="488.66" width="4.65" height="3.74" fill="#fdd2b5"/>
<rect x="219.85" y="483.98" width="4.65" height="8.42" fill="#d83027"/>
<rect x="224.05" y="489.12" width="4.65" height="3.28" fill="#fdd2b5"/>
<line x1="165.3" y1="492.4" x2="168.1" y2="492.4" stroke="#444" stroke-width="0.7"/>
<text x="165.2" y="494.8" font-size="7.3" text-anchor="end" fill="#222">0</text>
<line x1="166.5" y1="483.04" x2="168.1" y2="483.04" stroke="#444" stroke-width="0.7"/>
<line x1="165.3" y1="473.68" x2="168.1" y2="473.68" stroke="#444" stroke-width="0.7"/>
<text x="165.2" y="476.08" font-size="7.3" text-anchor="end" fill="#222">0.2</text>
<line x1="166.5" y1="464.32" x2="168.1" y2="464.32" stroke="#444" stroke-width="0.7"/>
<line x1="165.3" y1="454.96" x2="168.1" y2="454.96" stroke="#444" stroke-width="0.7"/>
<text x="165.2" y="457.36" font-size="7.3" text-anchor="end" fill="#222">0.4</text>
<line x1="166.5" y1="445.6" x2="168.1" y2="445.6" stroke="#444" stroke-width="0.7"/>
<line x1="165.3" y1="436.24" x2="168.1" y2="436.24" stroke="#444" stroke-width="0.7"/>
<text x="165.2" y="438.64" font-size="7.3" text-anchor="end" fill="#222">0.6</text>
<line x1="166.5" y1="426.88" x2="168.1" y2="426.88" stroke="#444" stroke-width="0.7"/>
<line x1="165.3" y1="417.52" x2="168.1" y2="417.52" stroke="#444" stroke-width="0.7"/>
<text x="165.2" y="419.92" font-size="7.3" text-anchor="end" fill="#222">0.8</text>
<line x1="166.5" y1="408.16" x2="168.1" y2="408.16" stroke="#444" stroke-width="0.7"/>
<line x1="165.3" y1="398.8" x2="168.1" y2="398.8" stroke="#444" stroke-width="0.7"/>
<text x="165.2" y="401.2" font-size="7.3" text-anchor="end" fill="#222">1</text>
<line x1="183.4" y1="492.4" x2="183.4" y2="494.2" stroke="#444" stroke-width="0.7"/>
<line x1="200.65" y1="492.4" x2="200.65" y2="494.2" stroke="#444" stroke-width="0.7"/>
<line x1="217.9" y1="492.4" x2="217.9" y2="494.2" stroke="#444" stroke-width="0.7"/>
<line x1="235.15" y1="492.4" x2="235.15" y2="494.2" stroke="#444" stroke-width="0.7"/>
<line x1="252.4" y1="492.4" x2="252.4" y2="494.2" stroke="#444" stroke-width="0.7"/>
<line x1="269.65" y1="492.4" x2="269.65" y2="494.2" stroke="#444" stroke-width="0.7"/>
<text transform="translate(183.1 505.2) rotate(-21)" font-size="6.9" text-anchor="middle" fill="#222">&lt;−100</text>
<text transform="translate(200.35 505.2) rotate(-21)" font-size="6.9" text-anchor="middle" fill="#222">(−100, −10)</text>
<text transform="translate(217.6 505.2) rotate(-21)" font-size="6.9" text-anchor="middle" fill="#222">(−10, −1)</text>
<text transform="translate(234.85 505.2) rotate(-21)" font-size="6.9" text-anchor="middle" fill="#222">(−1, 0)</text>
<text transform="translate(252.1 505.2) rotate(-21)" font-size="6.9" text-anchor="middle" fill="#222">(0, 1)</text>
<text transform="translate(269.35 505.2) rotate(-21)" font-size="6.9" text-anchor="middle" fill="#222">(&gt;1)</text>
<text x="248.3" y="418" font-size="11.5" fill="#111">SSF</text>
<text x="179" y="521.8" font-size="11.25" fill="#111">Fitness effects (<tspan font-style="italic">NeS</tspan>)</text>
<rect x="289.4" y="389.4" width="103.6" height="103" fill="none" stroke="#8a8a8a" stroke-width="1"/>
<rect x="289.4" y="484.63" width="4.65" height="7.77" fill="#d83027"/>
<rect x="293.6" y="415.65" width="4.65" height="76.75" fill="#fdd2b5"/>
<rect x="297.8" y="399.74" width="4.65" height="92.66" fill="#94c3df"/>
<rect x="302" y="399.27" width="4.2" height="93.13" fill="#3d6eb5"/>
<rect x="306.65" y="490.53" width="4.65" height="1.87" fill="#d83027"/>
<rect x="310.85" y="482.1" width="4.65" height="10.3" fill="#fdd2b5"/>
<rect x="315.05" y="492.12" width="4.65" height="0.28" fill="#94c3df"/>
<rect x="319.25" y="492.12" width="4.2" height="0.28" fill="#3d6eb5"/>
<rect x="323.9" y="490.25" width="4.65" height="2.15" fill="#d83027"/>
<rect x="328.1" y="488.66" width="4.65" height="3.74" fill="#fdd2b5"/>
<rect x="341.15" y="410.03" width="4.65" height="82.37" fill="#d83027"/>
<rect x="345.35" y="490.06" width="4.65" height="2.34" fill="#fdd2b5"/>
<line x1="286.6" y1="492.4" x2="289.4" y2="492.4" stroke="#444" stroke-width="0.7"/>
<text x="286.5" y="494.8" font-size="7.3" text-anchor="end" fill="#222">0</text>
<line x1="287.8" y1="483.04" x2="289.4" y2="483.04" stroke="#444" stroke-width="0.7"/>
<line x1="286.6" y1="473.68" x2="289.4" y2="473.68" stroke="#444" stroke-width="0.7"/>
<text x="286.5" y="476.08" font-size="7.3" text-anchor="end" fill="#222">0.2</text>
<line x1="287.8" y1="464.32" x2="289.4" y2="464.32" stroke="#444" stroke-width="0.7"/>
<line x1="286.6" y1="454.96" x2="289.4" y2="454.96" stroke="#444" stroke-width="0.7"/>
<text x="286.5" y="457.36" font-size="7.3" text-anchor="end" fill="#222">0.4</text>
<line x1="287.8" y1="445.6" x2="289.4" y2="445.6" stroke="#444" stroke-width="0.7"/>
<line x1="286.6" y1="436.24" x2="289.4" y2="436.24" stroke="#444" stroke-width="0.7"/>
<text x="286.5" y="438.64" font-size="7.3" text-anchor="end" fill="#222">0.6</text>
<line x1="287.8" y1="426.88" x2="289.4" y2="426.88" stroke="#444" stroke-width="0.7"/>
<line x1="286.6" y1="417.52" x2="289.4" y2="417.52" stroke="#444" stroke-width="0.7"/>
<text x="286.5" y="419.92" font-size="7.3" text-anchor="end" fill="#222">0.8</text>
<line x1="287.8" y1="408.16" x2="289.4" y2="408.16" stroke="#444" stroke-width="0.7"/>
<line x1="286.6" y1="398.8" x2="289.4" y2="398.8" stroke="#444" stroke-width="0.7"/>
<text x="286.5" y="401.2" font-size="7.3" text-anchor="end" fill="#222">1</text>
<line x1="304.7" y1="492.4" x2="304.7" y2="494.2" stroke="#444" stroke-width="0.7"/>
<line x1="321.95" y1="492.4" x2="321.95" y2="494.2" stroke="#444" stroke-width="0.7"/>
<line x1="339.2" y1="492.4" x2="339.2" y2="494.2" stroke="#444" stroke-width="0.7"/>
<line x1="356.45" y1="492.4" x2="356.45" y2="494.2" stroke="#444" stroke-width="0.7"/>
<line x1="373.7" y1="492.4" x2="373.7" y2="494.2" stroke="#444" stroke-width="0.7"/>
<line x1="390.95" y1="492.4" x2="390.95" y2="494.2" stroke="#444" stroke-width="0.7"/>
<text transform="translate(304.4 505.2) rotate(-21)" font-size="6.9" text-anchor="middle" fill="#222">&lt;−100</text>
<text transform="translate(321.65 505.2) rotate(-21)" font-size="6.9" text-anchor="middle" fill="#222">(−100, −10)</text>
<text transform="translate(338.9 505.2) rotate(-21)" font-size="6.9" text-anchor="middle" fill="#222">(−10, −1)</text>
<text transform="translate(356.15 505.2) rotate(-21)" font-size="6.9" text-anchor="middle" fill="#222">(−1, 0)</text>
<text transform="translate(373.4 505.2) rotate(-21)" font-size="6.9" text-anchor="middle" fill="#222">(0, 1)</text>
<text transform="translate(390.65 505.2) rotate(-21)" font-size="6.9" text-anchor="middle" fill="#222">(&gt;1)</text>
<text x="364" y="418" font-size="11.5" fill="#111">LSF</text>
<text x="301.5" y="521.8" font-size="11.25" fill="#111">Fitness effects (<tspan font-style="italic">NeS</tspan>)</text>
<rect x="66.2" y="393.9" width="7.8" height="6.0" fill="#d83027"/>
<text x="74.5" y="400.3" font-size="6.1" fill="#333">nSNP</text>
<rect x="89.3" y="393.9" width="7.3" height="6.0" fill="#fdd2b5"/>
<text x="98" y="400.3" font-size="6.1" fill="#333">indel</text>
<rect x="110.8" y="393.9" width="7.5" height="6.0" fill="#94c3df"/>
<text x="119.9" y="400.3" font-size="6.1" fill="#333">DEL</text>
<rect x="131.3" y="393.9" width="7.7" height="6.0" fill="#3d6eb5"/>
<text x="139.6" y="400.3" font-size="6.1" fill="#333">INS</text>
<rect x="434.4" y="389.2" width="112.2" height="103.4" fill="none" stroke="#a8a8a8" stroke-width="1"/>
<rect x="434.7" y="442.3" width="7.75" height="50.3" fill="#1a82f7"/>
<line x1="438.35" y1="441.7" x2="438.35" y2="442.3" stroke="#aaa" stroke-width="0.7"/>
<line x1="436.15" y1="441.7" x2="440.55" y2="441.7" stroke="#aaa" stroke-width="0.7"/>
<rect x="442" y="451" width="8.15" height="41.6" fill="#34992f"/>
<line x1="445.85" y1="447.4" x2="445.85" y2="451" stroke="#aaa" stroke-width="0.7"/>
<line x1="443.65" y1="447.4" x2="448.05" y2="447.4" stroke="#aaa" stroke-width="0.7"/>
<rect x="443.1" y="444.6" width="1.5" height="1.6" fill="#6a6a6a"/>
<rect x="445.15" y="444.6" width="1.5" height="1.6" fill="#6a6a6a"/>
<rect x="447.2" y="444.6" width="1.5" height="1.6" fill="#6a6a6a"/>
<rect x="449.7" y="457" width="7.3" height="35.6" fill="#ff0303"/>
<line x1="453.35" y1="452.2" x2="453.35" y2="457" stroke="#aaa" stroke-width="0.7"/>
<line x1="451.15" y1="452.2" x2="455.55" y2="452.2" stroke="#aaa" stroke-width="0.7"/>
<rect x="450.4" y="450.2" width="1.5" height="1.6" fill="#6a6a6a"/>
<rect x="452.45" y="450.2" width="1.5" height="1.6" fill="#6a6a6a"/>
<rect x="454.5" y="450.2" width="1.5" height="1.6" fill="#6a6a6a"/>
<rect x="464.3" y="418.2" width="8.05" height="74.4" fill="#1a82f7"/>
<line x1="465.9" y1="417.7" x2="470.3" y2="417.7" stroke="#aaa" stroke-width="0.7"/>
<rect x="471.9" y="458.8" width="7.75" height="33.8" fill="#34992f"/>
<line x1="475.55" y1="457.7" x2="475.55" y2="458.8" stroke="#aaa" stroke-width="0.7"/>
<line x1="473.35" y1="457.7" x2="477.75" y2="457.7" stroke="#aaa" stroke-width="0.7"/>
<rect x="473.2" y="454.2" width="1.5" height="1.6" fill="#6a6a6a"/>
<rect x="475.25" y="454.2" width="1.5" height="1.6" fill="#6a6a6a"/>
<rect x="477.3" y="454.2" width="1.5" height="1.6" fill="#6a6a6a"/>
<rect x="479.2" y="457.9" width="7.8" height="34.7" fill="#ff0303"/>
<line x1="483.1" y1="456.6" x2="483.1" y2="457.9" stroke="#aaa" stroke-width="0.7"/>
<line x1="480.9" y1="456.6" x2="485.3" y2="456.6" stroke="#aaa" stroke-width="0.7"/>
<rect x="480.2" y="452.5" width="1.5" height="1.6" fill="#6a6a6a"/>
<rect x="482.25" y="452.5" width="1.5" height="1.6" fill="#6a6a6a"/>
<rect x="484.3" y="452.5" width="1.5" height="1.6" fill="#6a6a6a"/>
<rect x="494.1" y="433.9" width="8.05" height="58.7" fill="#1a82f7"/>
<line x1="497.9" y1="431.4" x2="497.9" y2="433.9" stroke="#aaa" stroke-width="0.7"/>
<line x1="495.7" y1="431.4" x2="500.1" y2="431.4" stroke="#aaa" stroke-width="0.7"/>
<rect x="501.7" y="446.9" width="7.95" height="45.7" fill="#34992f"/>
<line x1="505.45" y1="444.3" x2="505.45" y2="446.9" stroke="#aaa" stroke-width="0.7"/>
<line x1="503.25" y1="444.3" x2="507.65" y2="444.3" stroke="#aaa" stroke-width="0.7"/>
<rect x="503.1" y="441" width="1.5" height="1.6" fill="#6a6a6a"/>
<rect x="505.15" y="441" width="1.5" height="1.6" fill="#6a6a6a"/>
<rect x="507.2" y="441" width="1.5" height="1.6" fill="#6a6a6a"/>
<rect x="509.2" y="444.1" width="7.8" height="48.5" fill="#ff0303"/>
<line x1="513.1" y1="442.3" x2="513.1" y2="444.1" stroke="#aaa" stroke-width="0.7"/>
<line x1="510.9" y1="442.3" x2="515.3" y2="442.3" stroke="#aaa" stroke-width="0.7"/>
<rect x="510.6" y="438.2" width="1.5" height="1.6" fill="#6a6a6a"/>
<rect x="512.65" y="438.2" width="1.5" height="1.6" fill="#6a6a6a"/>
<rect x="514.7" y="438.2" width="1.5" height="1.6" fill="#6a6a6a"/>
<rect x="524.1" y="441.2" width="8.05" height="51.4" fill="#1a82f7"/>
<line x1="527.9" y1="440.5" x2="527.9" y2="441.2" stroke="#aaa" stroke-width="0.7"/>
<line x1="525.7" y1="440.5" x2="530.1" y2="440.5" stroke="#aaa" stroke-width="0.7"/>
<rect x="531.7" y="458.9" width="7.95" height="33.7" fill="#34992f"/>
<line x1="535.45" y1="458" x2="535.45" y2="458.9" stroke="#aaa" stroke-width="0.7"/>
<line x1="533.25" y1="458" x2="537.65" y2="458" stroke="#aaa" stroke-width="0.7"/>
<rect x="532.6" y="454.5" width="1.5" height="1.6" fill="#6a6a6a"/>
<rect x="534.65" y="454.5" width="1.5" height="1.6" fill="#6a6a6a"/>
<rect x="536.7" y="454.5" width="1.5" height="1.6" fill="#6a6a6a"/>
<rect x="539.2" y="442" width="7.4" height="50.6" fill="#ff0303"/>
<line x1="542.9" y1="441" x2="542.9" y2="442" stroke="#aaa" stroke-width="0.7"/>
<line x1="540.7" y1="441" x2="545.1" y2="441" stroke="#aaa" stroke-width="0.7"/>
<rect x="539.7" y="438.2" width="1.5" height="1.6" fill="#6a6a6a"/>
<rect x="541.75" y="438.2" width="1.5" height="1.6" fill="#6a6a6a"/>
<rect x="543.8" y="438.2" width="1.5" height="1.6" fill="#6a6a6a"/>
<text x="432" y="496" font-size="7.6" text-anchor="end" fill="#222">0</text>
<text x="432" y="473" font-size="7.6" text-anchor="end" fill="#222">0.2</text>
<text x="432" y="450" font-size="7.6" text-anchor="end" fill="#222">0.4</text>
<text x="432" y="427" font-size="7.6" text-anchor="end" fill="#222">0.6</text>
<text x="432" y="404" font-size="7.6" text-anchor="end" fill="#222">0.8</text>
<rect x="517" y="393.5" width="8.8" height="6.7" fill="#1a82f7"/>
<text x="528.1" y="400.2" font-size="7.9" fill="#333">Wild</text>
<rect x="517" y="403" width="8.8" height="6.7" fill="#34992f"/>
<text x="528.1" y="409.6" font-size="7.9" fill="#333">SSF</text>
<rect x="517" y="412" width="8.8" height="6.7" fill="#ff0303"/>
<text x="528.1" y="418.2" font-size="7.9" fill="#333">LSF</text>
<text x="451.2" y="505.7" font-size="8.6" text-anchor="middle" fill="#111">nSNP</text>
<text x="475.3" y="505.7" font-size="8.6" text-anchor="middle" fill="#111">indel</text>
<text x="500" y="505.7" font-size="8.6" text-anchor="middle" fill="#111">DEL</text>
<text x="527.2" y="505.7" font-size="8.6" text-anchor="middle" fill="#111">INS</text>
<text transform="translate(409.2 445.5) rotate(-90)" font-size="9.75" text-anchor="middle" fill="#111">The proportion of</text>
<text transform="translate(419.4 445.5) rotate(-90)" font-size="9.75" text-anchor="middle" fill="#111">adaptive variation (α)</text>
</svg>
</body></html>
